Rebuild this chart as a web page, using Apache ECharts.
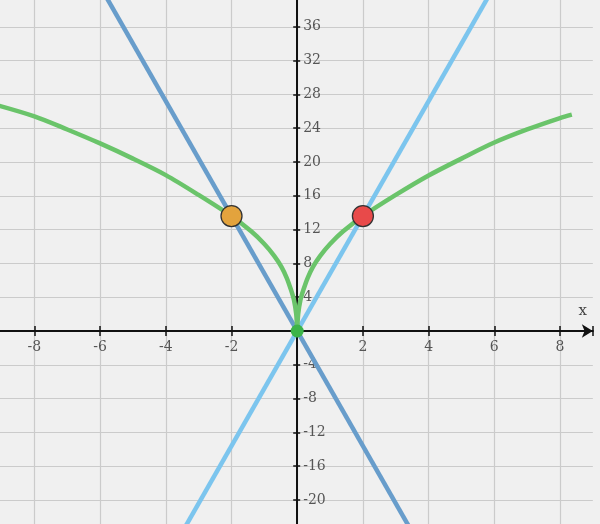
<!DOCTYPE html>
<html>
<head>
<meta charset="utf-8">
<script src="https://cdn.jsdelivr.net/npm/echarts@6/dist/echarts.min.js"></script>
<style>
html,body{margin:0;padding:0;background:#f0f0f0;}
#chart{width:600px;height:524px;}
</style>
</head>
<body>
<div id="chart"></div>
<script>
// ---- data ----
const curveLeftX  = [-9.3, -8, -7, -6, -5, -4, -3, -2, -1.4, -1.0, -0.7, -0.48, -0.32, -0.2, -0.1, -0.03, 0];
const curveLeftY  = [26.9, 25.4, 23.85, 22.2, 20.4, 18.45, 16.1, 13.6, 11.8, 10.3, 8.9, 7.6, 6.3, 5.0, 3.7, 2.0, 0];
const curveRightX = [0, 0.03, 0.1, 0.2, 0.32, 0.48, 0.7, 1.0, 1.4, 2, 3, 4, 5, 6, 7, 8, 8.36];
const curveRightY = [0, 2.0, 3.7, 5.0, 6.3, 7.6, 8.9, 10.3, 11.8, 13.6, 16.1, 18.4, 20.4, 22.3, 23.85, 25.2, 25.6];
const lineDownX = [-6, 4];
const lineDownY = [40.8, -27.2];
const lineUpX = [-4, 6];
const lineUpY = [-27.2, 40.8];
const pointOrange = [-2, 13.6];
const pointRed = [2, 13.6];
const pointOrigin = [0, 0];
const xMin = -10, xMax = 9, xStep = 2;
const yMin = -24, yMax = 40, yStep = 4;

// ---- layout (pixels) ----
const W = 600, H = 524;
const plotLeft = -31.3, plotRight = 592.85, plotTop = -7, plotBottom = 533.8;
const zeroX = plotLeft + (0 - xMin) / (xMax - xMin) * (plotRight - plotLeft);
const zeroY = plotBottom - (0 - yMin) / (yMax - yMin) * (plotBottom - plotTop);

const zip = (xs, ys) => xs.map((x, i) => [x, ys[i]]);
const fmtX = v => (v === 0 || v === xMin || v === xMax ? '' : String(v));
const fmtY = v => (v === 0 || v === yMin || v === yMax ? '' : String(v));
const tickStyle = { color: '#111', width: 1.5 };
const labelFont = { fontFamily: 'DejaVu Serif', fontSize: 14, color: '#555' };

const chart = echarts.init(document.getElementById('chart'), null, { renderer: 'canvas' });
chart.setOption({
  backgroundColor: '#f0f0f0',
  animation: false,
  grid: { left: plotLeft, right: W - plotRight, top: plotTop, bottom: H - plotBottom, containLabel: false, outerBoundsMode: 'none' },
  xAxis: [
    {
      type: 'value', min: xMin, max: xMax, interval: xStep,
      position: 'bottom', offset: zeroY - plotBottom,
      name: 'x', nameLocation: 'end', nameGap: -10,
      nameTextStyle: { fontFamily: 'DejaVu Serif', fontSize: 15, color: '#444', align: 'center', verticalAlign: 'bottom', padding: [0, 0, 12, 0] },
      axisLine: { onZero: false, lineStyle: { color: '#111', width: 2 }, symbol: ['none', 'arrow'], symbolSize: [10, 11] },
      axisTick: { show: true, length: 5, lineStyle: tickStyle },
      axisLabel: Object.assign({ show: true, margin: 9, formatter: fmtX }, labelFont),
      splitLine: { show: true, showMaxLine: false, lineStyle: { color: '#cbcbcb', width: 1.2 } }
    },
    {
      type: 'value', min: xMin, max: xMax, interval: xStep,
      position: 'top', offset: plotTop - zeroY,
      axisLine: { onZero: false, show: false },
      axisTick: { show: true, length: 5, lineStyle: tickStyle },
      axisLabel: { show: false },
      splitLine: { show: false }
    }
  ],
  yAxis: [
    {
      type: 'value', min: yMin, max: yMax, interval: yStep,
      position: 'left', offset: plotLeft - zeroX,
      axisLine: { onZero: false, lineStyle: { color: '#111', width: 2 } },
      axisTick: { show: true, length: 4, lineStyle: tickStyle },
      axisLabel: Object.assign({ show: true, inside: true, margin: 6, formatter: fmtY }, labelFont),
      splitLine: { show: true, lineStyle: { color: '#cbcbcb', width: 1.2 } }
    },
    {
      type: 'value', min: yMin, max: yMax, interval: yStep,
      position: 'right', offset: zeroX - plotRight,
      axisLine: { onZero: false, show: false },
      axisTick: { show: true, length: 3, lineStyle: tickStyle },
      axisLabel: { show: false },
      splitLine: { show: false }
    }
  ],
  series: [
    { type: 'line', data: zip(lineDownX, lineDownY), symbol: 'none', lineStyle: { color: '#689dcb', width: 4.5 }, z: 3 },
    { type: 'line', data: zip(lineUpX, lineUpY), symbol: 'none', lineStyle: { color: '#7cc5ee', width: 4.5 }, z: 3 },
    { type: 'line', data: zip(curveLeftX, curveLeftY), symbol: 'none', smooth: 0.3, lineStyle: { color: '#6ac46a', width: 4.5 }, z: 4 },
    { type: 'line', data: zip(curveRightX, curveRightY), symbol: 'none', smooth: 0.3, lineStyle: { color: '#6ac46a', width: 4.5 }, z: 4 },
    { type: 'scatter', data: [pointOrange], symbolSize: 21, itemStyle: { color: '#e3a33d', borderColor: '#333', borderWidth: 1.3, opacity: 1 }, z: 5 },
    { type: 'scatter', data: [pointRed], symbolSize: 21, itemStyle: { color: '#e84a4a', borderColor: '#333', borderWidth: 1.3, opacity: 1 }, z: 5 },
    { type: 'scatter', data: [pointOrigin], symbolSize: 13, itemStyle: { color: '#3cb449', opacity: 1 }, z: 5 }
  ]
});
</script>
</body>
</html>
